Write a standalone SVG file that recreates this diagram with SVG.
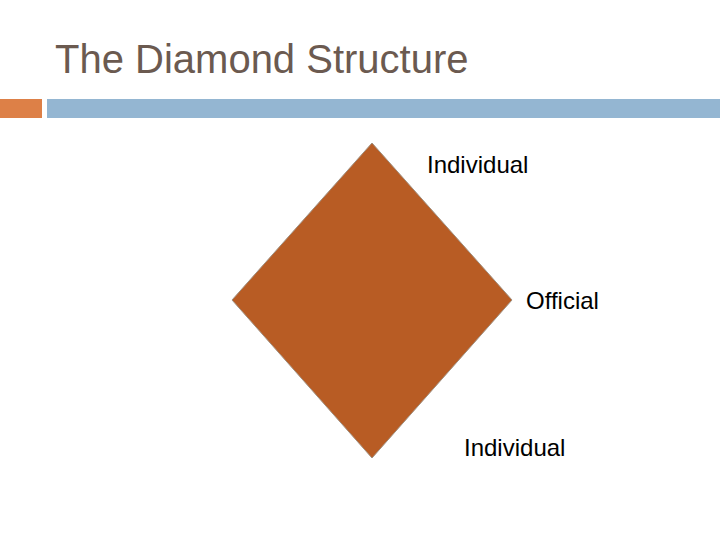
<svg xmlns="http://www.w3.org/2000/svg" width="720" height="540" viewBox="0 0 720 540">
<style>
.lbl{font-family:"Liberation Sans",Arial,sans-serif;font-size:24px;fill:#000}
</style>
<rect width="720" height="540" fill="#fff"/>
<text x="55" y="73" font-family="Liberation Sans,Arial,sans-serif" font-size="40" fill="#6B5A50">The Diamond Structure</text>
<rect x="0" y="99" width="42" height="19" fill="#DD8047"/>
<rect x="47" y="99" width="673" height="19" fill="#94B6D2"/>
<g id="diamond"><polygon points="372,143 512,300 372,458 232,300" fill="#B85C24" stroke="#A09080" stroke-width="1"/></g>
<g id="top"><text class="lbl" x="427" y="173">Individual</text></g>
<g id="right"><text class="lbl" x="526" y="309">Official</text></g>
<g id="bottom"><text class="lbl" x="464" y="456">Individual</text></g>
<g id="connectors"/>
</svg>
